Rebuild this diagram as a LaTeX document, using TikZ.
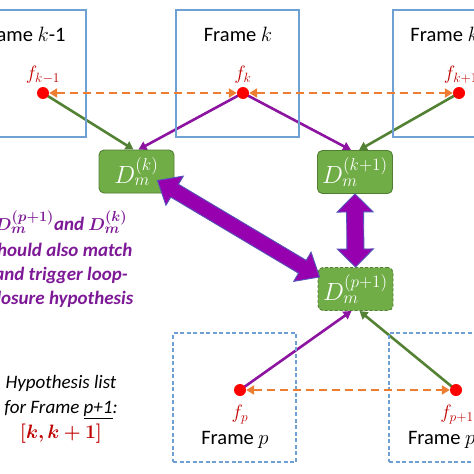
\documentclass[tikz,border=0pt]{standalone}
\usepackage{amsmath,bm,graphicx}
\usepackage[no-math]{fontspec}
\setmainfont{Carlito}
\usetikzlibrary{calc,arrows.meta}
\pgfdeclarelayer{bg}
\pgfsetlayers{bg,main}
\definecolor{framebl}{RGB}{110,160,212}
\definecolor{boxgreen}{RGB}{112,173,71}
\definecolor{boxedge}{RGB}{80,126,50}
\definecolor{lgreen}{RGB}{84,130,53}
\definecolor{lpurple}{RGB}{140,20,160}
\definecolor{bigpurple}{RGB}{150,0,175}
\definecolor{bigedge}{RGB}{85,85,185}
\definecolor{txtpurple}{RGB}{125,25,150}
\definecolor{orng}{RGB}{237,125,49}
\definecolor{dred}{RGB}{192,0,0}
\newcommand{\boxmath}[1]{\scalebox{1.2}{$#1$}}
\newcommand{\labmath}[1]{\scalebox{1.12}{$#1$}}
\tikzset{
  framebox/.style={draw=framebl, line width=1.3pt, minimum width=123pt, minimum height=127pt, inner sep=0pt},
  dframebox/.style={framebox, dashed, dash pattern=on 4pt off 2.5pt, minimum height=129pt},
  ftitle/.style={font=\fontsize{20.5}{24}\selectfont, inner sep=0pt},
  dot/.style={circle, fill=red, minimum size=12pt, inner sep=0pt},
  flabel/.style={text=dred, font=\fontsize{17.28}{20}\selectfont, inner sep=0pt},
  dbox/.style={draw=boxedge, line width=0.9pt, fill=boxgreen, rounded corners=5pt, minimum width=75pt, minimum height=43pt, text=white, font=\fontsize{20.74}{24}\selectfont, inner sep=0pt},
  greenln/.style={draw=lgreen, line width=2.6pt, -{Triangle[width=9pt,length=8pt]}},
  purpleln/.style={draw=lpurple, line width=2.6pt, -{Triangle[width=9pt,length=8pt]}},
  orangeln/.style={draw=orng, line width=2.4pt, dash pattern=on 8pt off 5pt, {Triangle[width=9pt,length=8pt]}-{Triangle[width=9pt,length=8pt]}},
  bigarrow/.style={fill=bigpurple, draw=bigedge, line width=0.9pt, line join=miter},
}
\begin{document}
\begin{tikzpicture}[x=1pt,y=-1pt]
\useasboundingbox (0,0) rectangle (474,474);
% frames
\node[framebox] (Fkm1) at (24.5,73.5) {};
\node[framebox] (Fk) at (237.5,73.5) {};
\node[framebox] (Fkp1) at (454.5,73.5) {};
\node[dframebox] (Fp) at (234.5,397.5) {};
\node[dframebox] (Fpp1) at (450.5,397.5) {};
\node[ftitle] (tkm1) at (23,34) {Frame $k$-1};
\node[ftitle] (tk) at (238,34) {Frame $k$};
\node[ftitle] (tkp1) at (455,34) {Frame $k$+1};
\node[ftitle] (tp) at (235,440) {Frame $p$};
\node[ftitle] (tpp1) at (452,440) {Frame $p$+1};
% dots
\node[dot] (fkm1) at (43,93) {};
\node[dot] (fk) at (243,93) {};
\node[dot] (fkp1) at (459,93) {};
\node[dot] (fp) at (240,390) {};
\node[dot] (fpp1) at (456,390) {};
\node[flabel] (lfkm1) at (43,75) {\labmath{f_{k-1}}};
\node[flabel] (lfk) at (243,75) {\labmath{f_{k}}};
\node[flabel] (lfkp1) at (461,75) {\labmath{f_{k+1}}};
\node[flabel] (lfp) at (240,415) {\labmath{f_{p}}};
\node[flabel] (lfpp1) at (457,415) {\labmath{f_{p+1}}};
% D boxes
\node[dbox] (Dk) at (136.5,171.5) {\boxmath{D_m^{(k)}}};
\node[dbox] (Dk1) at (355,172) {\boxmath{D_m^{(k+1)}}};
\node[dbox, dashed, dash pattern=on 3pt off 2pt] (Dp1) at (355.5,289) {\boxmath{D_m^{(p+1)}}};
% connectors
\begin{pgfonlayer}{bg}
\draw[greenln] (fkm1.center) -- ([xshift=-3pt]Dk.north);
\draw[purpleln] (fk.center) -- ([xshift=2pt]Dk.north);
\draw[purpleln] (fk.center) -- ([xshift=-4pt]Dk1.north);
\draw[greenln] (fkp1.center) -- ([xshift=4pt]Dk1.north);
\draw[purpleln] (fp.center) -- ([xshift=-4pt]Dp1.south);
\draw[greenln] (fpp1.center) -- ([xshift=4pt]Dp1.south);
\end{pgfonlayer}
\draw[orangeln] (fkm1) -- (fk);
\draw[orangeln] (fk) -- (fkp1);
\draw[orangeln] (fp) -- (fpp1);
% big arrows
\coordinate (bA) at ($(Dk.south east)+(-17,-13)$);
\coordinate (bB) at ($(Dp1.west)+(2,-12)$);
\draw[bigarrow] (bA)
 -- ($(bA)!20pt!(bB)!17pt!90:(bB)$) -- ($(bA)!20pt!(bB)!7.5pt!90:(bB)$)
 -- ($(bB)!20pt!(bA)!7.5pt!-90:(bA)$) -- ($(bB)!20pt!(bA)!17pt!-90:(bA)$)
 -- (bB)
 -- ($(bB)!20pt!(bA)!17pt!90:(bA)$) -- ($(bB)!20pt!(bA)!7.5pt!90:(bA)$)
 -- ($(bA)!20pt!(bB)!7.5pt!-90:(bB)$) -- ($(bA)!20pt!(bB)!17pt!-90:(bB)$)
 -- cycle;
\coordinate (vA) at (Dk1.south);
\coordinate (vB) at (Dp1.north);
\draw[bigarrow] (vA)
 -- ($(vA)!18pt!(vB)!18pt!90:(vB)$) -- ($(vA)!18pt!(vB)!8.5pt!90:(vB)$)
 -- ($(vB)!18pt!(vA)!8.5pt!-90:(vA)$) -- ($(vB)!18pt!(vA)!18pt!-90:(vA)$)
 -- (vB)
 -- ($(vB)!18pt!(vA)!18pt!90:(vA)$) -- ($(vB)!18pt!(vA)!8.5pt!90:(vA)$)
 -- ($(vA)!18pt!(vB)!8.5pt!-90:(vB)$) -- ($(vA)!18pt!(vB)!18pt!-90:(vB)$)
 -- cycle;
% texts
\node[text=txtpurple, align=center, font=\fontsize{19}{24}\selectfont\bfseries\itshape, inner sep=0pt] (note) at (61,259)
 {$\bm{D_m^{(p+1)}}$and $\bm{D_m^{(k)}}$\\[2pt]should also match\\and trigger loop-\\closure hypothesis};
\node[align=center, font=\fontsize{19}{25}\selectfont\itshape, inner sep=0pt] (hyp) at (61,409)
 {Hypothesis list\\for Frame \underline{p+1}:\\{\color{dred}\scalebox{1.12}{$\bm{[k,k+1]}$}}};
\end{tikzpicture}
\end{document}
